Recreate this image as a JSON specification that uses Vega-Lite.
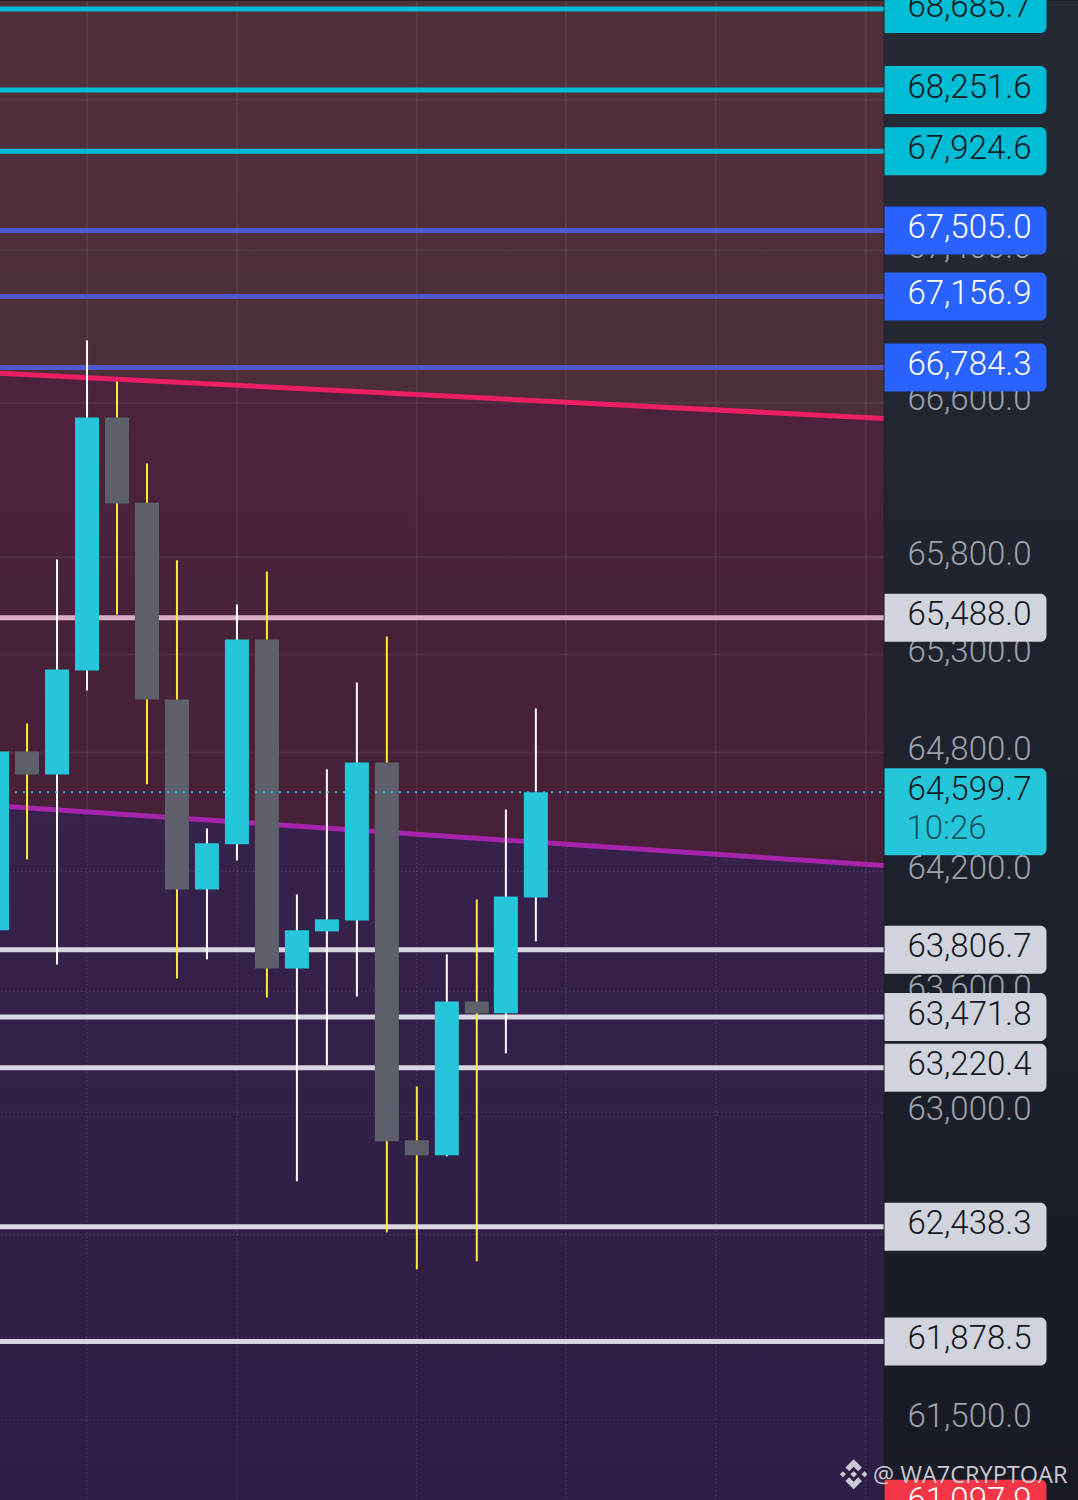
{
  "$schema": "https://vega.github.io/schema/vega-lite/v6.json",
  "width": 1078,
  "height": 1500,
  "padding": {"left": 0, "top": 0, "right": 0, "bottom": 0},
  "autosize": {"type": "none"},
  "background": "#181b26",
  "config": {"view": {"stroke": null}, "text": {"font": "Roboto"}},
  "resolve": {"scale": {"color": "independent", "fill": "independent"}},
  "datasets": {
    "candles": [
      {"bar": 0, "open": 63904, "close": 64806, "high": 64806, "low": 63904, "dir": "up"},
      {"bar": 1, "open": 64806, "close": 64689, "high": 64948, "low": 64260, "dir": "down"},
      {"bar": 2, "open": 64689, "close": 65223, "high": 65788, "low": 63734, "dir": "up"},
      {"bar": 3, "open": 65218, "close": 66523, "high": 66925, "low": 65116, "dir": "up"},
      {"bar": 4, "open": 66523, "close": 66076, "high": 66711, "low": 65505, "dir": "down"},
      {"bar": 5, "open": 66081, "close": 65070, "high": 66284, "low": 64639, "dir": "down"},
      {"bar": 6, "open": 65070, "close": 64109, "high": 65783, "low": 63664, "dir": "down"},
      {"bar": 7, "open": 64109, "close": 64341, "high": 64416, "low": 63759, "dir": "up"},
      {"bar": 8, "open": 64336, "close": 65377, "high": 65556, "low": 64255, "dir": "up"},
      {"bar": 9, "open": 65377, "close": 63714, "high": 65726, "low": 63569, "dir": "down"},
      {"bar": 10, "open": 63714, "close": 63904, "high": 64084, "low": 62660, "dir": "up"},
      {"bar": 11, "open": 63899, "close": 63959, "high": 64715, "low": 63232, "dir": "up"},
      {"bar": 12, "open": 63954, "close": 64750, "high": 65157, "low": 63574, "dir": "up"},
      {"bar": 13, "open": 64750, "close": 62857, "high": 65392, "low": 62411, "dir": "down"},
      {"bar": 14, "open": 62862, "close": 62788, "high": 63128, "low": 62230, "dir": "down"},
      {"bar": 15, "open": 62788, "close": 63549, "high": 63784, "low": 62783, "dir": "up"},
      {"bar": 16, "open": 63549, "close": 63490, "high": 64059, "low": 62269, "dir": "down"},
      {"bar": 16.97, "open": 63490, "close": 64074, "high": 64512, "low": 63292, "dir": "up"},
      {"bar": 17.97, "open": 64069, "close": 64599.7, "high": 65024, "low": 63849, "dir": "up"}
    ],
    "levels": [
      {"price": 68685.7, "group": "resistance", "start": 0, "end": 29.567, "tagStart": 29.6, "tagEnd": 35},
      {"price": 68251.6, "group": "resistance", "start": 0, "end": 29.567, "tagStart": 29.6, "tagEnd": 35},
      {"price": 67924.6, "group": "resistance", "start": 0, "end": 29.567, "tagStart": 29.6, "tagEnd": 35},
      {"price": 67505.0, "group": "target", "start": 0, "end": 29.567, "tagStart": 29.6, "tagEnd": 35},
      {"price": 67156.9, "group": "target", "start": 0, "end": 29.567, "tagStart": 29.6, "tagEnd": 35},
      {"price": 66784.3, "group": "target", "start": 0, "end": 29.567, "tagStart": 29.6, "tagEnd": 35},
      {"price": 65488.0, "group": "pivot", "start": 0, "end": 29.567, "tagStart": 29.6, "tagEnd": 35},
      {"price": 63806.7, "group": "support", "start": 0, "end": 29.567, "tagStart": 29.6, "tagEnd": 35},
      {"price": 63471.8, "group": "support", "start": 0, "end": 29.567, "tagStart": 29.6, "tagEnd": 35},
      {"price": 63220.4, "group": "support", "start": 0, "end": 29.567, "tagStart": 29.6, "tagEnd": 35},
      {"price": 62438.3, "group": "support", "start": 0, "end": 29.567, "tagStart": 29.6, "tagEnd": 35},
      {"price": 61878.5, "group": "support", "start": 0, "end": 29.567, "tagStart": 29.6, "tagEnd": 35}
    ],
    "ticks": [
      {"price": 68200, "start": 0, "end": 29.567},
      {"price": 67400, "start": 0, "end": 29.567},
      {"price": 66600, "start": 0, "end": 29.567},
      {"price": 65800, "start": 0, "end": 29.567},
      {"price": 65300, "start": 0, "end": 29.567},
      {"price": 64800, "start": 0, "end": 29.567},
      {"price": 64200, "start": 0, "end": 29.567},
      {"price": 63600, "start": 0, "end": 29.567},
      {"price": 63000, "start": 0, "end": 29.567},
      {"price": 62400, "start": 0, "end": 29.567},
      {"price": 61900, "start": 0, "end": 29.567},
      {"price": 61500, "start": 0, "end": 29.567}
    ],
    "verticals": [
      {"bar": 3, "split": 64497, "top": 68730.5, "bottom": 61114.2},
      {"bar": 8, "split": 64447, "top": 68730.5, "bottom": 61114.2},
      {"bar": 14, "split": 64386, "top": 68730.5, "bottom": 61114.2},
      {"bar": 18.97, "split": 64336, "top": 68730.5, "bottom": 61114.2},
      {"bar": 23.97, "split": 64285, "top": 68730.5, "bottom": 61114.2},
      {"bar": 28.97, "split": 64235, "top": 68730.5, "bottom": 61114.2}
    ],
    "zones": [
      {"bar": 0, "red": 66755, "purple": 64530, "top": 68730.5, "bottom": 61114.2},
      {"bar": 29.567, "red": 66518, "purple": 64229, "top": 68730.5, "bottom": 61114.2}
    ],
    "last": [
      {"price": 64599.7, "countdown": "10:26", "start": 0.6, "end": 29.567, "tagStart": 29.6, "tagEnd": 35}
    ],
    "market": [
      {"price": 61097.9, "tagStart": 29.6, "tagEnd": 35}
    ],
    "panel": [
      {"start": 29.567, "end": 36.1, "top": 68730.5, "bottom": 61114.2}
    ]
  },
  "data": {"name": "candles"},
  "layer": [
    {
      "data": {"name": "panel"},
      "mark": {"type": "rect", "fill": {"gradient": "linear", "x1": 0, "y1": 0, "x2": 0, "y2": 1, "stops": [{"offset": 0, "color": "#262a34"}, {"offset": 0.5, "color": "#1e222d"}, {"offset": 1, "color": "#181b26"}]}},
      "encoding": {
        "x": {"field": "start", "type": "quantitative", "scale": {"domain": [0.2646, 35.8846]}, "axis": null},
        "x2": {"field": "end"},
        "y": {"field": "top", "type": "quantitative", "scale": {"type": "log", "domain": [61139.6, 68707.5]}, "axis": null},
        "y2": {"field": "bottom"}
      }
    },
    {
      "data": {"name": "zones"},
      "mark": {"type": "area", "fill": {"gradient": "linear", "x1": 0, "y1": 0, "x2": 0, "y2": 1, "stops": [{"offset": 0, "color": "#502f3b"}, {"offset": 1, "color": "#4b2e38"}]}},
      "encoding": {
        "x": {"field": "bar", "type": "quantitative", "scale": {"domain": [0.2646, 35.8846]}, "axis": null},
        "y": {"field": "top", "type": "quantitative", "scale": {"type": "log", "domain": [61139.6, 68707.5]}, "axis": null},
        "y2": {"field": "red"}
      }
    },
    {
      "data": {"name": "zones"},
      "mark": {"type": "area", "fill": {"gradient": "linear", "x1": 0, "y1": 0, "x2": 0, "y2": 1, "stops": [{"offset": 0, "color": "#4b243b"}, {"offset": 1, "color": "#452037"}]}},
      "encoding": {
        "x": {"field": "bar", "type": "quantitative", "scale": {"domain": [0.2646, 35.8846]}, "axis": null},
        "y": {"field": "red", "type": "quantitative", "scale": {"type": "log", "domain": [61139.6, 68707.5]}, "axis": null},
        "y2": {"field": "purple"}
      }
    },
    {
      "data": {"name": "zones"},
      "mark": {"type": "area", "fill": {"gradient": "linear", "x1": 0, "y1": 0, "x2": 0, "y2": 1, "stops": [{"offset": 0, "color": "#36224a"}, {"offset": 1, "color": "#2e1d46"}]}},
      "encoding": {
        "x": {"field": "bar", "type": "quantitative", "scale": {"domain": [0.2646, 35.8846]}, "axis": null},
        "y": {"field": "purple", "type": "quantitative", "scale": {"type": "log", "domain": [61139.6, 68707.5]}, "axis": null},
        "y2": {"field": "bottom"}
      }
    },
    {
      "data": {"name": "ticks"},
      "transform": [{"filter": "datum.price > 64400"}],
      "mark": {"type": "rule", "stroke": "#ffffff", "strokeOpacity": 0.06, "strokeWidth": 2},
      "encoding": {
        "x": {"field": "start", "type": "quantitative", "scale": {"domain": [0.2646, 35.8846]}, "axis": null},
        "x2": {"field": "end"},
        "y": {"field": "price", "type": "quantitative", "scale": {"type": "log", "domain": [61139.6, 68707.5]}, "axis": null}
      }
    },
    {
      "data": {"name": "ticks"},
      "transform": [{"filter": "datum.price < 64400"}],
      "mark": {"type": "rule", "stroke": "#ffffff", "strokeOpacity": 0.2, "strokeWidth": 1, "strokeDash": [1, 3]},
      "encoding": {
        "x": {"field": "start", "type": "quantitative", "scale": {"domain": [0.2646, 35.8846]}, "axis": null},
        "x2": {"field": "end"},
        "y": {"field": "price", "type": "quantitative", "scale": {"type": "log", "domain": [61139.6, 68707.5]}, "axis": null}
      }
    },
    {
      "data": {"name": "verticals"},
      "mark": {"type": "rule", "stroke": "#ffffff", "strokeOpacity": 0.06, "strokeWidth": 2},
      "encoding": {
        "x": {"field": "bar", "type": "quantitative", "scale": {"domain": [0.2646, 35.8846]}, "axis": null},
        "y": {"field": "top", "type": "quantitative", "scale": {"type": "log", "domain": [61139.6, 68707.5]}, "axis": null},
        "y2": {"field": "split"}
      }
    },
    {
      "data": {"name": "verticals"},
      "mark": {"type": "rule", "stroke": "#ffffff", "strokeOpacity": 0.2, "strokeWidth": 1, "strokeDash": [1, 3]},
      "encoding": {
        "x": {"field": "bar", "type": "quantitative", "scale": {"domain": [0.2646, 35.8846]}, "axis": null},
        "y": {"field": "split", "type": "quantitative", "scale": {"type": "log", "domain": [61139.6, 68707.5]}, "axis": null},
        "y2": {"field": "bottom"}
      }
    },
    {
      "data": {"name": "levels"},
      "mark": {"type": "rule", "strokeWidth": 5},
      "encoding": {
        "x": {"field": "start", "type": "quantitative", "scale": {"domain": [0.2646, 35.8846]}, "axis": null},
        "x2": {"field": "end"},
        "y": {"field": "price", "type": "quantitative", "scale": {"type": "log", "domain": [61139.6, 68707.5]}, "axis": null},
        "color": {"field": "group", "type": "nominal", "legend": null, "scale": {"domain": ["resistance", "target", "pivot", "support"], "range": ["#00bcd4", "#5058d6", "#d6adc3", "#d8d6e0"]}}
      }
    },
    {
      "data": {"name": "zones"},
      "mark": {"type": "line", "stroke": "#e91e63", "strokeWidth": 5},
      "encoding": {
        "x": {"field": "bar", "type": "quantitative", "scale": {"domain": [0.2646, 35.8846]}, "axis": null},
        "y": {"field": "red", "type": "quantitative", "scale": {"type": "log", "domain": [61139.6, 68707.5]}, "axis": null}
      }
    },
    {
      "data": {"name": "zones"},
      "mark": {"type": "line", "stroke": "#a524ab", "strokeWidth": 5},
      "encoding": {
        "x": {"field": "bar", "type": "quantitative", "scale": {"domain": [0.2646, 35.8846]}, "axis": null},
        "y": {"field": "purple", "type": "quantitative", "scale": {"type": "log", "domain": [61139.6, 68707.5]}, "axis": null}
      }
    },
    {
      "mark": {"type": "rule", "strokeWidth": 2},
      "encoding": {
        "x": {"field": "bar", "type": "quantitative", "scale": {"domain": [0.2646, 35.8846]}, "axis": null},
        "y": {"field": "high", "type": "quantitative", "scale": {"type": "log", "domain": [61139.6, 68707.5]}, "axis": null},
        "y2": {"field": "low"},
        "color": {"field": "dir", "type": "nominal", "legend": null, "scale": {"domain": ["up", "down"], "range": ["#ffffff", "#ffeb3b"]}}
      }
    },
    {
      "mark": {"type": "bar", "width": 24},
      "encoding": {
        "x": {"field": "bar", "type": "quantitative", "scale": {"domain": [0.2646, 35.8846]}, "axis": null},
        "y": {"field": "open", "type": "quantitative", "scale": {"type": "log", "domain": [61139.6, 68707.5]}, "axis": null},
        "y2": {"field": "close"},
        "fill": {"field": "dir", "type": "nominal", "legend": null, "scale": {"domain": ["up", "down"], "range": ["#26c6da", "#5d606b"]}}
      }
    },
    {
      "data": {"name": "last"},
      "mark": {"type": "rule", "stroke": "#26c6da", "strokeWidth": 2, "strokeDash": [2, 6]},
      "encoding": {
        "x": {"field": "start", "type": "quantitative", "scale": {"domain": [0.2646, 35.8846]}, "axis": null},
        "x2": {"field": "end"},
        "y": {"field": "price", "type": "quantitative", "scale": {"type": "log", "domain": [61139.6, 68707.5]}, "axis": null}
      }
    },
    {
      "data": {"name": "ticks"},
      "mark": {"type": "text", "align": "right", "baseline": "middle", "dy": -2.5, "fontSize": 33, "fontWeight": 300, "fill": "#9fa1ab"},
      "encoding": {
        "x": {"datum": 34.5, "type": "quantitative", "scale": {"domain": [0.2646, 35.8846]}, "axis": null},
        "y": {"field": "price", "type": "quantitative", "scale": {"type": "log", "domain": [61139.6, 68707.5]}, "axis": null},
        "text": {"field": "price", "type": "quantitative", "format": ",.1f"}
      }
    },
    {
      "data": {"name": "levels"},
      "mark": {"type": "bar", "orient": "horizontal", "height": 48, "cornerRadiusTopRight": 6, "cornerRadiusBottomRight": 6},
      "encoding": {
        "x": {"field": "tagStart", "type": "quantitative", "scale": {"domain": [0.2646, 35.8846]}, "axis": null},
        "x2": {"field": "tagEnd"},
        "y": {"field": "price", "type": "quantitative", "scale": {"type": "log", "domain": [61139.6, 68707.5]}, "axis": null},
        "fill": {"field": "group", "type": "nominal", "legend": null, "scale": {"domain": ["resistance", "target", "pivot", "support"], "range": ["#00bcd4", "#2962ff", "#d1d4dc", "#d1d4dc"]}}
      }
    },
    {
      "data": {"name": "market"},
      "mark": {"type": "bar", "orient": "horizontal", "height": 48, "fill": "#f23645", "cornerRadiusTopRight": 6},
      "encoding": {
        "x": {"field": "tagStart", "type": "quantitative", "scale": {"domain": [0.2646, 35.8846]}, "axis": null},
        "x2": {"field": "tagEnd"},
        "y": {"field": "price", "type": "quantitative", "scale": {"type": "log", "domain": [61139.6, 68707.5]}, "axis": null}
      }
    },
    {
      "data": {"name": "last"},
      "mark": {"type": "bar", "orient": "horizontal", "height": 87, "yOffset": 19.5, "fill": "#26c6da", "cornerRadiusTopRight": 6, "cornerRadiusBottomRight": 6},
      "encoding": {
        "x": {"field": "tagStart", "type": "quantitative", "scale": {"domain": [0.2646, 35.8846]}, "axis": null},
        "x2": {"field": "tagEnd"},
        "y": {"field": "price", "type": "quantitative", "scale": {"type": "log", "domain": [61139.6, 68707.5]}, "axis": null}
      }
    },
    {
      "data": {"name": "levels"},
      "mark": {"type": "text", "align": "right", "baseline": "middle", "dy": -2.5, "fontSize": 33, "fontWeight": 300},
      "encoding": {
        "x": {"datum": 34.5, "type": "quantitative", "scale": {"domain": [0.2646, 35.8846]}, "axis": null},
        "y": {"field": "price", "type": "quantitative", "scale": {"type": "log", "domain": [61139.6, 68707.5]}, "axis": null},
        "text": {"field": "price", "type": "quantitative", "format": ",.1f"},
        "fill": {"field": "group", "type": "nominal", "legend": null, "scale": {"domain": ["resistance", "target", "pivot", "support"], "range": ["#0b1a22", "#ffffff", "#131722", "#131722"]}}
      }
    },
    {
      "data": {"name": "last"},
      "mark": {"type": "text", "align": "right", "baseline": "middle", "dy": -2.5, "fontSize": 33, "fontWeight": 300, "fill": "#0b1a22"},
      "encoding": {
        "x": {"datum": 34.5, "type": "quantitative", "scale": {"domain": [0.2646, 35.8846]}, "axis": null},
        "y": {"field": "price", "type": "quantitative", "scale": {"type": "log", "domain": [61139.6, 68707.5]}, "axis": null},
        "text": {"field": "price", "type": "quantitative", "format": ",.1f"}
      }
    },
    {
      "data": {"name": "last"},
      "mark": {"type": "text", "align": "left", "baseline": "middle", "dy": 36.5, "fontSize": 33, "fontWeight": 300, "fill": "#14545f"},
      "encoding": {
        "x": {"datum": 30.33, "type": "quantitative", "scale": {"domain": [0.2646, 35.8846]}, "axis": null},
        "y": {"field": "price", "type": "quantitative", "scale": {"type": "log", "domain": [61139.6, 68707.5]}, "axis": null},
        "text": {"field": "countdown"}
      }
    },
    {
      "data": {"name": "market"},
      "mark": {"type": "text", "align": "right", "baseline": "middle", "dy": -2.5, "fontSize": 33, "fontWeight": 300, "fill": "#ffffff"},
      "encoding": {
        "x": {"datum": 34.5, "type": "quantitative", "scale": {"domain": [0.2646, 35.8846]}, "axis": null},
        "y": {"field": "price", "type": "quantitative", "scale": {"type": "log", "domain": [61139.6, 68707.5]}, "axis": null},
        "text": {"field": "price", "type": "quantitative", "format": ",.1f"}
      }
    },
    {
      "data": {"values": [{"price": 61239}]},
      "mark": {"type": "point", "filled": true, "fill": "#c9c9d2", "opacity": 1, "size": 900, "shape": "M0,-0.22L0.22,0L0,0.22L-0.22,0ZM-0.72,-0.2L-0.52,0L-0.72,0.2L-0.92,0ZM0.72,-0.2L0.92,0L0.72,0.2L0.52,0ZM0,-1L0.55,-0.45L0.3,-0.2L0,-0.5L-0.3,-0.2L-0.55,-0.45ZM0,1L0.55,0.45L0.3,0.2L0,0.5L-0.3,0.2L-0.55,0.45Z"},
      "encoding": {
        "x": {"datum": 28.57, "type": "quantitative", "scale": {"domain": [0.2646, 35.8846]}, "axis": null},
        "y": {"field": "price", "type": "quantitative", "scale": {"type": "log", "domain": [61139.6, 68707.5]}, "axis": null}
      }
    },
    {
      "data": {"values": [{"price": 61229, "handle": "@ WA7CRYPTOAR"}]},
      "mark": {"type": "text", "align": "right", "baseline": "middle", "font": "Open Sans", "fontSize": 23.5, "fill": "#c9c9d2"},
      "encoding": {
        "x": {"datum": 35.7, "type": "quantitative", "scale": {"domain": [0.2646, 35.8846]}, "axis": null},
        "y": {"field": "price", "type": "quantitative", "scale": {"type": "log", "domain": [61139.6, 68707.5]}, "axis": null},
        "text": {"field": "handle"}
      }
    }
  ]
}
